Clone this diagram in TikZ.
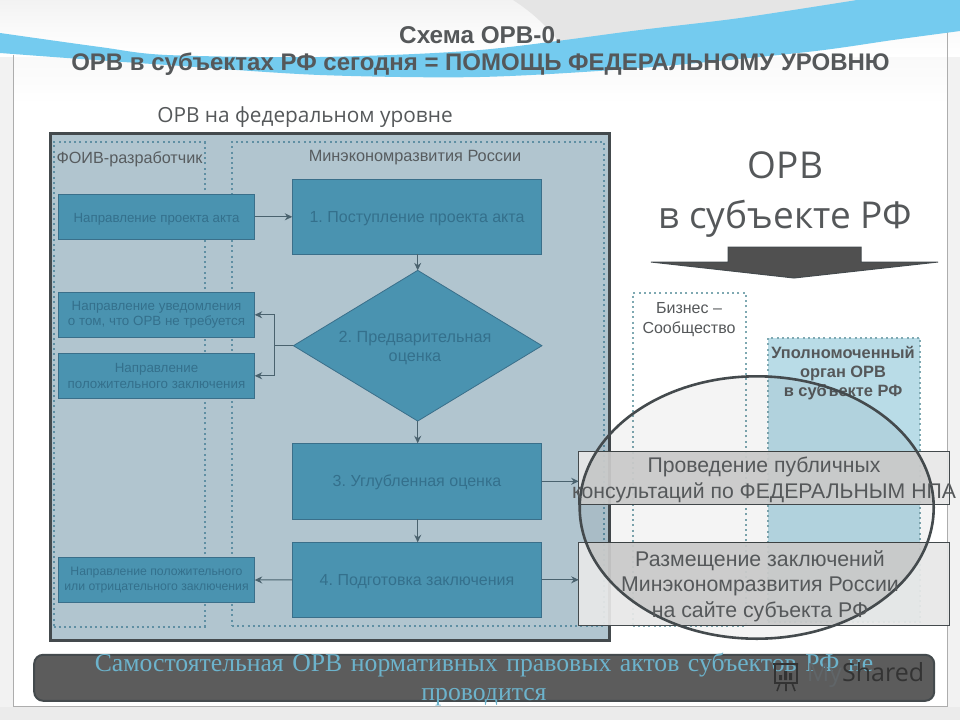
\documentclass[tikz,border=0pt]{standalone}
\usepackage{fontspec}
\setmainfont{Liberation Sans}
\newfontfamily\humfont{Open Sans}
\newfontfamily\serfont{Liberation Serif}
\usetikzlibrary{arrows.meta,shapes.geometric,calc}
\newcommand{\gp}{\hspace{.28em}}
\definecolor{panelc}{HTML}{B1C5CF}
\definecolor{boxc}{HTML}{4A93B0}
\definecolor{boxline}{HTML}{3A6F8A}
\definecolor{boxtext}{HTML}{34708C}
\definecolor{dotc}{HTML}{5F8FA3}
\definecolor{dotlight}{HTML}{7FA9B2}
\definecolor{darkc}{HTML}{444A4D}
\definecolor{arrowc}{HTML}{4A626E}
\definecolor{textc}{HTML}{55585A}
\definecolor{swoosh}{HTML}{74CBEF}
\definecolor{upolc}{HTML}{B9DCE7}
\definecolor{barc}{HTML}{5C5C5C}
\definecolor{bartext}{HTML}{6CB3CC}
\definecolor{greyfill}{HTML}{E8E8E8}
\definecolor{bigarrow}{HTML}{505050}
\tikzset{
  x=1pt,y=-1pt,
  flowbox/.style={draw=boxline,line width=.8pt,fill=boxc,rectangle,inner sep=0pt,outer sep=0pt,
    text=boxtext,align=center,font=\fontsize{#1}{15.8}\selectfont,
    execute at begin node={\rule{0pt}{14pt}}},
  flowbox/.default=14,
  conn/.style={draw=arrowc,line width=1pt,-{Stealth[length=7.5pt,width=7pt]}},
  dotbox/.style={draw=dotc,line width=2pt,dash pattern=on 2pt off 3.2pt},
  greybox/.style={draw=darkc,line width=.8pt,fill=greyfill,fill opacity=.92,rectangle,inner sep=0pt,outer sep=0pt},
  label/.style={inner sep=0pt,outer sep=0pt,align=center,text=textc}
}
\begin{document}
\begin{tikzpicture}
\useasboundingbox (0,0) rectangle (960,720);
% slide background
\fill[black!6] (0,0) rectangle (960,720);
\fill[white] (13,50) rectangle (947,706);
\shade[top color=black!5,bottom color=white] (13,0) rectangle (947,105);
\fill[black!5] (0,0) rectangle (13,720);
\fill[black!5] (947,0) rectangle (960,720);
\shade[top color=black!5,bottom color=white,middle color=black!2] (0,0) rectangle (960,56);
\fill[black!8] (0,707) rectangle (960,720);
\draw[black!32,line width=1pt] (13,55) -- (13,706) -- (947,706) -- (947,30);
% swoosh
\fill[black!10] (513,0) .. controls (535,14) and (550,30) .. (560,43)
  .. controls (680,38) and (800,15) .. (860,0) -- cycle;
\fill[swoosh] plot[smooth] coordinates {(0,33) (100,47) (167,55) (320,57) (480,50) (640,30) (740,18) (857,0)}
  -- (960,0) -- (960,31)
  -- plot[smooth] coordinates {(960,31) (893,40) (807,52) (640,68) (480,77) (320,75) (167,65) (67,58) (0,53)} -- cycle;
% titles
\node[label,font=\bfseries\fontsize{24.3}{26}\selectfont] (t1) at (480.5,35) {Схема ОРВ-0.};
\node[label,font=\bfseries\fontsize{24}{26}\selectfont] (t2) at (480.5,64) {ОРВ в субъектах РФ сегодня = ПОМОЩЬ ФЕДЕРАЛЬНОМУ УРОВНЮ};
\node[label,font=\humfont\fontsize{20.8}{24}\selectfont] (t3) at (305,117) {ОРВ на федеральном уровне};
% federal panel
\node[draw=darkc,line width=3pt,fill=panelc,rectangle,inner sep=0pt,minimum width=559pt,minimum height=506.7pt] (panel) at (329.5,386.8) {};
\node[dotbox,rectangle,inner sep=0pt,minimum width=151pt,minimum height=485pt] (foiv) at (129,384.5) {};
\node[dotbox,rectangle,inner sep=0pt,minimum width=372pt,minimum height=484pt] (mer) at (418,384) {};
\node[label,font=\fontsize{16.2}{19}\selectfont,text=darkc!90] (foivt) at (129.5,159) {ФОИВ-разработчик};
\node[label,font=\fontsize{16.3}{19}\selectfont,text=darkc!90] (mert) at (415,157.5) {Минэкономразвития России};
% flow boxes
\node[flowbox=13.3,minimum width=196.4pt,minimum height=45pt] (a1) at (156.5,216.8) {Направление\gp проекта акта};
\node[flowbox=13.35,minimum width=196.4pt,minimum height=45pt] (a2) at (156.5,314.8) {Направление\gp уведомления\\о том, что ОРВ не требуется};
\node[flowbox=13.35,minimum width=196.4pt,minimum height=45pt] (a3) at (156.5,375.8) {Направление\\положительного заключения};
\node[flowbox=12.25,minimum width=196.4pt,minimum height=45.3pt] (a4) at (156.5,580) {Направление положительного\\или отрицательного заключения};
\node[flowbox=16,minimum width=249.4pt,minimum height=75pt] (b1) at (417,216.8) {1.\gp Поступление проекта акта};
\node[draw=boxline,line width=.8pt,fill=boxc,inner sep=0pt,outer sep=0pt,diamond,aspect=1.65,minimum width=248.5pt,minimum height=150.7pt] (b2) at (417.7,345.7) {};
\node[label,font=\fontsize{16.2}{19.5}\selectfont,text=boxtext] (b2t) at (415,348) {2.\gp Предварительная\\оценка};
\node[flowbox=16,minimum width=249.4pt,minimum height=76pt] (b3) at (417,481.3) {3.\gp Углубленная\gp оценка};
\node[flowbox=16,minimum width=249.4pt,minimum height=75pt] (b4) at (417,579.8) {4.\gp Подготовка заключения};
% right columns
\node[dotbox,draw=dotlight,rectangle,inner sep=0pt,minimum width=113pt,minimum height=333pt] (biz) at (689.2,459.5) {};
\node[dotbox,draw=dotlight,fill=upolc,rectangle,inner sep=0pt,minimum width=151.7pt,minimum height=284pt] (upol) at (844.2,480) {};
\node[label,font=\fontsize{16}{19.5}\selectfont] (bizt) at (689,319.5) {Бизнес –\\Сообщество};
\node[label,font=\bfseries\fontsize{16.4}{18.6}\selectfont] (upolt) at (843,373) {Уполномоченный\\орган ОРВ\\в субъекте РФ};
% heading and big arrow
\node[label,font=\humfont\fontsize{37}{50}\selectfont] (big) at (785.5,195) {ОРВ\\в субъекте РФ};
\fill[bigarrow,draw=darkc,line width=1pt] (651,262) -- (728,262) -- (728,247) -- (861,247) -- (861,262) -- (938,262) -- (794,278) -- cycle;
% grey boxes
\node[greybox,minimum width=370.6pt,minimum height=53pt] (pub) at (764,477.8) {};
\node[greybox,minimum width=370.6pt,minimum height=83pt] (site) at (764,583.8) {};
% connectors
\draw[conn] (a1.east) -- (b1.west |- a1.east);
\draw[conn] (b1.south -| b2.north) -- (b2.north);
\draw[conn] (b2.west) -- ++(-19,0) |- (a2.east);
\draw[conn] (b2.west) -- ++(-19,0) |- (a3.east);
\draw[conn] (b2.south) -- (b3.north -| b2.south);
\draw[conn] (b3.south -| b2.south) -- (b4.north -| b2.south);
\draw[conn] (b4.west) -- (a4.east);
\draw[conn] (b3.east) -- (b3.east -| pub.west);
\draw[conn] (b4.east) -- (b4.east -| site.west);
% lens
\begin{scope}
\clip (756.7,507.5) ellipse [x radius=177pt,y radius=131.2pt];
\fill[black,opacity=.08] (pub.north west) rectangle (pub.south east);
\fill[black,opacity=.08] (site.north west) rectangle (site.south east);
\end{scope}
\node[draw=darkc,line width=2.6pt,fill=black,fill opacity=.045,draw opacity=1,ellipse,inner sep=0pt,minimum width=354pt,minimum height=262.4pt] (lens) at (756.7,507.5) {};
% grey box texts
\node[label,font=\fontsize{21.2}{25.5}\selectfont] (pubt) at (764,480) {Проведение публичных\\консультаций по ФЕДЕРАЛЬНЫМ\gp НПА};
\node[label,font=\fontsize{21.3}{25.5}\selectfont] (sitet) at (760,586) {Размещение заключений\\Минэкономразвития России\\на сайте субъекта РФ};
% bottom bar
\node[draw=darkc,line width=2pt,fill=barc,rectangle,rounded corners=9pt,inner sep=0pt,minimum width=900pt,minimum height=46pt] (bar) at (484.2,677.8) {};
\node[label,font=\serfont\fontsize{25.7}{29.5}\selectfont,text=bartext,text width=900pt] (bart) at (484,679.5) {Самостоятельная ОРВ нормативных правовых актов субъектов РФ не\\проводится};
% watermark
\node[inner sep=0pt,font=\humfont\fontsize{25}{28}\selectfont,text=black!80] (wm) at (865.5,675) {\textcolor{darkc!85!white}{My}Shared};
\draw[black!80,line width=1.6pt] (773,664) -- (798,664) (775,664) rectangle (797,683) (780,683) -- (777,691) (792,683) -- (795,691) (786,683) -- (786,691);
\fill[black!80] (779,675) rectangle (782,680) (784,671) rectangle (787,680) (789,673) rectangle (792,680);
\end{tikzpicture}
\end{document}
